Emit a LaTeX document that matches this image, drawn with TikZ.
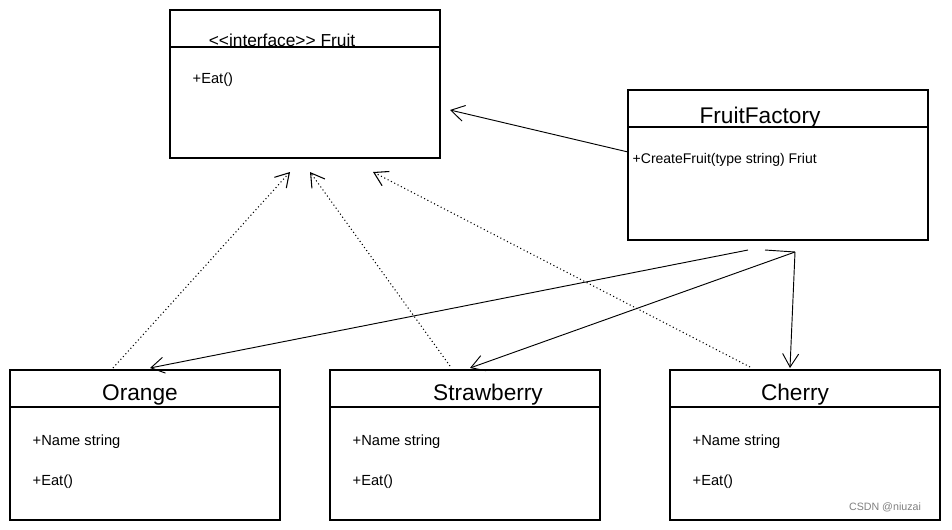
\documentclass[tikz,border=0pt]{standalone}
\usepackage{fontspec}
\setmainfont{Liberation Sans}
\usetikzlibrary{arrows.meta}
\begin{document}
\begin{tikzpicture}[x=0.75pt,y=-0.75pt,
  box/.style={draw=black,line width=0.9pt},
  ttl/.style={font=\fontsize{17}{19}\selectfont},
  itm/.style={font=\fontsize{11}{13}\selectfont,anchor=west},
  dep/.style={dotted,line width=0.8pt,-{Straight Barb[length=10pt,width=12pt]}},
  asc/.style={line width=0.7pt,-{Straight Barb[length=10pt,width=12pt]}}]
\useasboundingbox[fill=white] (0,0) rectangle (952,529);
% Fruit
\draw[box] (170,10) rectangle (440,158);
\draw[box] (170,47) -- (440,47);
\node[font=\fontsize{13}{15}\selectfont] (fruitT) at (282,40) {<{}<interface>{}> Fruit};
\node[itm] (fruitE) at (188,80) {+Eat()};
% FruitFactory
\draw[box] (628,90) rectangle (928,240);
\draw[box] (628,127) -- (928,127);
\node[ttl] (ffT) at (760,118) {FruitFactory};
\node[itm,font=\fontsize{10.5}{12}\selectfont] (ffC) at (628,160) {+CreateFruit(type string) Friut};
% products
\foreach \n/\x/\t/\tx in {or/10/Orange/140, st/330/Strawberry/488, ch/670/Cherry/795}{
  \draw[box] (\x,370) rectangle ++(270,150);
  \draw[box] (\x,407) -- ++(270,0);
  \node[ttl] (\n T) at (\tx,395) {\t};
  \node[itm] (\n N) at (\x+18,442) {+Name string};
  \node[itm] (\n E) at (\x+18,482) {+Eat()};
}
\coordinate (fa) at (290,172);
\coordinate (fb) at (310,172);
\coordinate (fc) at (373,172);
\coordinate (fr) at (450,110);
\coordinate (o1) at (113,368);
\coordinate (s1) at (450,366);
\coordinate (c1) at (750,367);
\coordinate (ff1) at (628,152);
\coordinate (ap1) at (748,250);
\coordinate (ap2) at (765,250);
\coordinate (ap3) at (795,252);
\coordinate (oa) at (150,368);
\coordinate (sa) at (470,368);
\coordinate (ca) at (790,368);
\draw[dep] (o1) -- (fa);
\draw[dep] (s1) -- (fb);
\draw[dep] (c1) -- (fc);
\draw[asc] (ff1) -- (fr);
\draw[asc] (ap1) -- (oa);
\draw[asc] (ap3) -- (sa);
\draw[line width=0.7pt] (ap2) -- (ap3);
\draw[asc] (ap3) -- (ca);
\node[text=gray,font=\fontsize{8}{9}\selectfont] (wm) at (885,507) {CSDN @niuzai};
\end{tikzpicture}
\end{document}
